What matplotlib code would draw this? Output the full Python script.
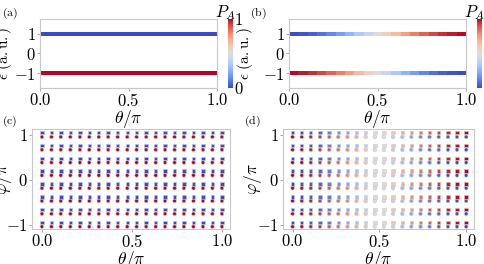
import numpy as np
import matplotlib
matplotlib.use('Agg')
import matplotlib.pyplot as plt
from matplotlib.collections import LineCollection

plt.rcParams['mathtext.fontset'] = 'cm'
plt.rcParams['font.family'] = ['serif']
plt.rcParams['font.serif'] = ['cmr10', 'DejaVu Serif']
plt.rcParams['axes.unicode_minus'] = False

# 数据
theta = [0.0, 0.053, 0.105, 0.158, 0.211, 0.263, 0.316, 0.368, 0.421, 0.474,
         0.526, 0.579, 0.632, 0.684, 0.737, 0.789, 0.842, 0.895, 0.947, 1.0]
phi = [-1.0, -0.714, -0.429, -0.143, 0.143, 0.429, 0.714, 1.0]
energy = [1, -1]  # 两条能带

# (a)/(c) 各能带的 P_A（常数）
pa_a_upper = [0.0] * 20
pa_a_lower = [1.0] * 20
# (b)/(d) 各能带的 P_A 随 theta 变化
pa_b_upper = [0.0, 0.01, 0.03, 0.06, 0.11, 0.16, 0.23, 0.30, 0.38, 0.46,
              0.54, 0.62, 0.70, 0.77, 0.84, 0.89, 0.94, 0.97, 0.99, 1.0]
pa_b_lower = [1.0, 0.99, 0.97, 0.94, 0.89, 0.84, 0.77, 0.70, 0.62, 0.54,
              0.46, 0.38, 0.30, 0.23, 0.16, 0.11, 0.06, 0.03, 0.01, 0.0]

cmap = plt.get_cmap('coolwarm')
norm = matplotlib.colors.Normalize(0, 1)
W, H = 484, 264
fig = plt.figure(figsize=(W / 100, H / 100), dpi=100)


def rect(x0, x1, y0, y1):
    return [x0 / W, 1 - y1 / H, (x1 - x0) / W, (y1 - y0) / H]


def style(ax):
    for s in ax.spines.values():
        s.set_color('#c8c8c8')
        s.set_linewidth(0.8)
    ax.tick_params(length=2, width=0.6, color='#999999', labelsize=12, pad=1)


def band_panel(ax, pa_up, pa_lo, ylab_x):
    th = np.array(theta)
    for e, pa in zip(energy, [pa_up, pa_lo]):
        pts = np.column_stack([th, np.full(len(th), e)])
        segs = np.stack([pts[:-1], pts[1:]], axis=1)
        pa = np.array(pa)
        lc = LineCollection(segs, colors=cmap(norm((pa[:-1] + pa[1:]) / 2)),
                            linewidths=2.6, capstyle='butt', antialiaseds=False)
        ax.add_collection(lc)
    ax.set_xlim(0, 1)
    ax.set_ylim(-1.75, 1.75)
    ax.set_xticks([0, 0.5, 1])
    ax.set_xticklabels([r'$0.0$', r'$0.5$', r'$1.0$'])
    ax.set_yticks([-1, 0, 1])
    ax.set_yticklabels([r'$-1$', r'$0$', r'$1$'])
    ax.set_xlabel(r'$\theta/\pi$', fontsize=12.5, labelpad=-1)
    ax.set_ylabel(r'$\epsilon\ (\mathrm{a.u.})$', fontsize=11)
    ax.yaxis.set_label_coords(ylab_x, 0.5)
    style(ax)


def cbar(cax):
    cb = fig.colorbar(matplotlib.cm.ScalarMappable(norm=norm, cmap=cmap), cax=cax, ticks=[0, 1])
    cb.outline.set_visible(False)
    cb.ax.set_yticklabels([r'$0$', r'$1$'])
    cb.ax.tick_params(length=0, labelsize=12, pad=1)
    cb.ax.text(-0.4, 1.23, r'$P_A$', fontsize=12, ha='center', va='top',
               transform=cb.ax.transAxes)


def dot_panel(ax, pa_up, pa_lo, ylab_x):
    dy = 0.047
    for p in phi:
        ax.scatter(theta, [p + dy] * len(theta), c=pa_up, cmap=cmap, norm=norm, marker='s',
                   s=6, edgecolors='#c8c8c8', linewidths=0.4, zorder=3)
        ax.scatter(theta, [p - dy] * len(theta), c=pa_lo, cmap=cmap, norm=norm, marker='o',
                   s=7, edgecolors='#c8c8c8', linewidths=0.4, zorder=3)
    ax.set_xlim(-0.055, 1.045)
    ax.set_ylim(-1.1, 1.13)
    ax.set_xticks([0, 0.5, 1])
    ax.set_xticklabels([r'$0.0$', r'$0.5$', r'$1.0$'])
    ax.set_yticks([-1, 0, 1])
    ax.set_yticklabels([r'$-1$', r'$0$', r'$1$'])
    ax.set_xlabel(r'$\theta/\pi$', fontsize=12.5, labelpad=-1)
    ax.set_ylabel(r'$\varphi/\pi$', fontsize=12.5)
    ax.yaxis.set_label_coords(ylab_x, 0.5)
    style(ax)


ax_a = fig.add_axes(rect(40, 217, 19, 88))
band_panel(ax_a, pa_a_upper, pa_a_lower, -0.145)
cbar(fig.add_axes(rect(228, 233, 19, 88)))

ax_b = fig.add_axes(rect(289, 466, 19, 88))
band_panel(ax_b, pa_b_upper, pa_b_lower, -0.19)
cbar(fig.add_axes(rect(477, 482, 19, 88)))

ax_c = fig.add_axes(rect(32, 230, 129, 229))
dot_panel(ax_c, pa_a_upper, pa_a_lower, -0.09)

ax_d = fig.add_axes(rect(283, 474, 129, 229))
dot_panel(ax_d, pa_b_upper, pa_b_lower, -0.10)

for txt, x, y in [('(a)', 2, 13), ('(b)', 250, 13), ('(c)', 2, 121), ('(d)', 244, 121)]:
    fig.text(x / W, 1 - y / H, r'$\mathrm{%s}$' % txt, fontsize=8.5, va='center', ha='left')

fig.savefig('out.png', dpi=100)
